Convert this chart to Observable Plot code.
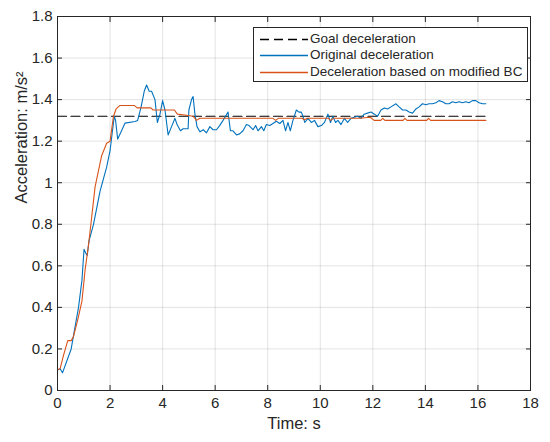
<!DOCTYPE html>
<html>
<head>
<meta charset="utf-8">
<script src="https://cdn.jsdelivr.net/npm/d3@7"></script>
<script src="https://cdn.jsdelivr.net/npm/@observablehq/plot@0.6"></script>
<style>
  body { margin: 0; background: #fff; }
  #wrap { position: relative; width: 550px; height: 442px; font-family: "Liberation Sans", Arial, sans-serif; }
  #legend { position: absolute; left: 253px; top: 27px; width: 275px; height: 55px; border: 1px solid #262626; background: #fff; box-sizing: border-box; }
  .row { position: absolute; left: 0; height: 16px; line-height: 16px; font-size: 13.5px; color: #262626; white-space: nowrap; }
  .row svg { position: absolute; left: 6px; top: 0; }
  .row span { position: absolute; left: 56px; top: 0; }
</style>
</head>
<body>
<div id="wrap">
  <div id="chart"></div>
  <div id="legend"></div>
</div>
<script>
// ---- data ----
const xTicks = [0, 2, 4, 6, 8, 10, 12, 14, 16, 18];
const yTicks = [0, 0.2, 0.4, 0.6, 0.8, 1.0, 1.2, 1.4, 1.6, 1.8];
const yTickLabels = ["0", "0.2", "0.4", "0.6", "0.8", "1", "1.2", "1.4", "1.6", "1.8"];

const seriesNames = ["Goal deceleration", "Original deceleration", "Deceleration based on modified BC"];
const seriesColors = ["#000000", "#0072BD", "#D95319"];

const goalT = [0, 16.3];
const goalV = [1.32, 1.32];

const blueT = [0.0, 0.1, 0.19, 0.52, 0.8, 0.93, 1.01, 1.08, 1.13, 1.2, 1.37, 1.62, 1.87, 2.0, 2.16, 2.21, 2.29, 2.42, 2.57, 2.95,
  3.05, 3.18, 3.3, 3.39, 3.49, 3.58, 3.71, 3.8, 3.9, 4.0, 4.09, 4.21, 4.34, 4.47, 4.55, 4.68, 4.78, 4.97, 5.0, 5.1,
  5.16, 5.23, 5.31, 5.42, 5.55, 5.67, 5.8, 5.92, 6.05, 6.17, 6.3, 6.49, 6.58, 6.68, 6.81, 6.93, 7.06, 7.19, 7.29, 7.44,
  7.54, 7.63, 7.76, 7.85, 7.95, 8.08, 8.2, 8.33, 8.46, 8.58, 8.68, 8.77, 8.86, 8.96, 9.09, 9.19, 9.28, 9.34, 9.41, 9.53,
  9.66, 9.78, 9.91, 10.04, 10.16, 10.29, 10.39, 10.48, 10.58, 10.67, 10.79, 10.92, 11.04, 11.17, 11.29, 11.42, 11.55, 11.67, 11.8, 11.93,
  12.06, 12.18, 12.31, 12.44, 12.56, 12.69, 12.88, 13.0, 13.13, 13.26, 13.38, 13.51, 13.64, 13.76, 13.89, 14.02, 14.14, 14.27, 14.4, 14.52,
  14.65, 14.78, 14.9, 15.03, 15.16, 15.28, 15.41, 15.54, 15.66, 15.79, 15.92, 16.04, 16.17, 16.3];
const blueV = [0.098, 0.105, 0.085, 0.20, 0.40, 0.53, 0.68, 0.66, 0.65, 0.72, 0.80, 0.96, 1.075, 1.155, 1.32, 1.30, 1.21, 1.245, 1.287, 1.295,
  1.30, 1.364, 1.44, 1.47, 1.44, 1.44, 1.40, 1.29, 1.33, 1.395, 1.35, 1.23, 1.27, 1.31, 1.28, 1.25, 1.26, 1.26, 1.35, 1.40,
  1.415, 1.33, 1.27, 1.245, 1.255, 1.24, 1.27, 1.255, 1.255, 1.275, 1.30, 1.34, 1.25, 1.25, 1.23, 1.235, 1.25, 1.28, 1.275, 1.255,
  1.275, 1.25, 1.27, 1.25, 1.28, 1.275, 1.285, 1.296, 1.285, 1.30, 1.25, 1.29, 1.25, 1.30, 1.35, 1.34, 1.34, 1.32, 1.29, 1.31,
  1.29, 1.30, 1.27, 1.275, 1.29, 1.33, 1.29, 1.32, 1.29, 1.30, 1.28, 1.31, 1.29, 1.31, 1.315, 1.32, 1.31, 1.33, 1.335, 1.34,
  1.33, 1.32, 1.35, 1.36, 1.355, 1.365, 1.38, 1.365, 1.35, 1.35, 1.34, 1.335, 1.355, 1.365, 1.38, 1.375, 1.38, 1.38, 1.385, 1.395,
  1.39, 1.38, 1.38, 1.39, 1.385, 1.39, 1.385, 1.39, 1.385, 1.395, 1.395, 1.385, 1.38, 1.38];

const orangeT = [0.0, 0.1, 0.23, 0.39, 0.52, 0.61, 0.77, 0.93, 1.05, 1.18, 1.27, 1.43, 1.68, 1.87, 2.0, 2.13, 2.23, 2.38, 2.92, 3.03,
  3.55, 3.64, 4.45, 4.56, 4.91, 5.16, 5.29, 5.42, 6.5, 8.2, 8.3, 8.4, 9.3, 9.4, 9.5, 10.3, 10.4, 10.5, 11.5, 11.9,
  12.05, 12.3, 12.38, 12.46, 13.15, 13.22, 13.3, 14.05, 14.12, 14.2, 16.3];
const orangeV = [0.10, 0.105, 0.17, 0.24, 0.24, 0.26, 0.34, 0.43, 0.58, 0.70, 0.80, 0.98, 1.13, 1.19, 1.20, 1.32, 1.355, 1.372, 1.372, 1.36,
  1.36, 1.35, 1.35, 1.33, 1.325, 1.32, 1.30, 1.31, 1.31, 1.31, 1.30, 1.31, 1.31, 1.303, 1.31, 1.31, 1.30, 1.31, 1.31, 1.315,
  1.30, 1.30, 1.31, 1.30, 1.30, 1.31, 1.30, 1.30, 1.31, 1.30, 1.30];

// ---- tables built from the arrays ----
const goal = goalT.map((t, i) => ({t, v: goalV[i]}));
const blue = blueT.map((t, i) => ({t, v: blueV[i]}));
const orange = orangeT.map((t, i) => ({t, v: orangeV[i]}));

const ink = "#262626";
const font = "Liberation Sans, Arial, sans-serif";

const chart = Plot.plot({
  width: 550,
  height: 442,
  marginLeft: 57,
  marginRight: 20,
  marginTop: 16,
  marginBottom: 52,
  style: {fontFamily: font, color: ink, background: "#fff"},
  x: {domain: [0, 18]},
  y: {domain: [0, 1.8]},
  marks: [
    Plot.gridX(xTicks, {stroke: ink, strokeOpacity: 0.13}),
    Plot.gridY(yTicks, {stroke: ink, strokeOpacity: 0.13}),
    Plot.line(goal, {x: "t", y: "v", stroke: seriesColors[0], strokeWidth: 1.2, strokeDasharray: "9,4.5"}),
    Plot.line(blue, {x: "t", y: "v", stroke: seriesColors[1], strokeWidth: 1.1}),
    Plot.line(orange, {x: "t", y: "v", stroke: seriesColors[2], strokeWidth: 1.1}),
    Plot.frame({stroke: ink, strokeWidth: 1}),
    Plot.axisX(xTicks, {anchor: "bottom", tickSize: -5, tickPadding: 12, fontSize: 15, label: null, stroke: ink, fill: ink, tickFormat: d => String(d)}),
    Plot.axisX(xTicks, {anchor: "top", tickSize: -5, label: null, stroke: ink, tickFormat: () => ""}),
    Plot.axisY(yTicks, {anchor: "left", tickSize: -5, tickPadding: 10, fontSize: 15, label: null, stroke: ink, fill: ink, tickFormat: (d, i) => yTickLabels[i]}),
    Plot.axisY(yTicks, {anchor: "right", tickSize: -5, label: null, stroke: ink, tickFormat: () => ""}),
    Plot.text(["Time: s"], {frameAnchor: "bottom", dy: 38, fontSize: 16.5, fill: ink}),
    Plot.text(["Acceleration: m/s²"], {frameAnchor: "left", dx: -36, rotate: -90, fontSize: 16.5, fill: ink})
  ]
});
document.getElementById("chart").appendChild(chart);

// ---- legend (inside the axes, upper right) ----
const legend = document.getElementById("legend");
const rowTops = [3, 19, 35];
seriesNames.forEach((name, i) => {
  const row = document.createElement("div");
  row.className = "row";
  row.style.top = (rowTops[i] + (i === 2 ? 0.5 : 0)) + "px";
  const dash = i === 0 ? ' stroke-dasharray="9,5"' : "";
  row.innerHTML = `<svg width="50" height="16"><line x1="0" x2="48" y1="8.5" y2="8.5" stroke="${seriesColors[i]}" stroke-width="1.3"${dash}/></svg><span>${name}</span>`;
  legend.appendChild(row);
});
</script>
</body>
</html>
